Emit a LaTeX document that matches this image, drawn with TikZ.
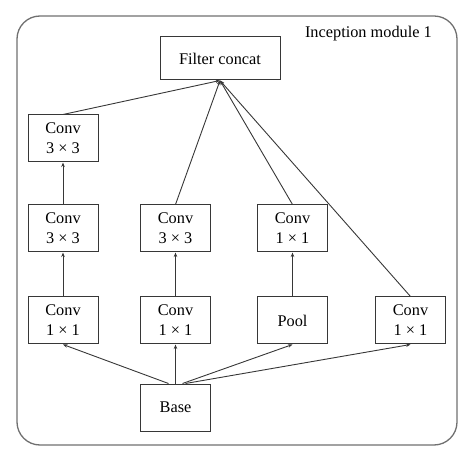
\documentclass[tikz,border=0pt]{standalone}
\usepackage{fontspec}
\setmainfont{Liberation Serif}
\usepackage{tikz}
\usetikzlibrary{arrows.meta,positioning,calc}
\definecolor{framegray}{RGB}{112,112,112}
\definecolor{boxgray}{RGB}{55,55,55}

\begin{document}
\begin{tikzpicture}[x=1pt,y=-1pt,font=\fontsize{16.3}{20}\selectfont, node distance=0pt]
  \tikzset{layer/.style={draw=boxgray,line width=1pt,minimum width=70pt,minimum height=47pt,inner sep=0pt,align=center},
           link/.style={-{Stealth[length=4.5pt,width=3.5pt]},line width=0.9pt,boxgray}}
  \useasboundingbox (0,0) rectangle (474,462);
  \draw[framegray,line width=1.3pt,rounded corners=23pt] (17,16) rectangle (457,445);
  \node[anchor=east,inner sep=0pt] (title) at (432,34) {Inception module 1};
  \node[layer,minimum width=120pt,minimum height=43pt] (fc) at (220,58.5) {Filter concat};
  % bottom row
  \node[layer] (c1a) at (63,320.5)  {Conv\\1 × 1};
  \node[layer] (c2a) at (175.5,320.5) {Conv\\1 × 1};
  \node[layer] (pool) at (292.5,320.5) {Pool};
  \node[layer] (c4a) at (410.5,320.5) {Conv\\1 × 1};
  % upper rows
  \node[layer, above=44pt of c1a] (c1b) {Conv\\3 × 3};
  \node[layer, above=42pt of c1b] (c1c) {Conv\\3 × 3};
  \node[layer, above=44pt of c2a] (c2b) {Conv\\3 × 3};
  \node[layer, above=44pt of pool] (c3b) {Conv\\1 × 1};
  \node[layer, below=39pt of c2a] (base) {Base};
  % connections
  \draw[link] ([xshift=-7pt]base.north) -- (c1a.south);
  \draw[link] (base.north) -- (c2a.south);
  \draw[link] ([xshift=7pt]base.north) -- (pool.south);
  \draw[link] ([xshift=10pt]base.north) -- (c4a.south);
  \draw[link] (c1a) -- (c1b); \draw[link] (c1b) -- (c1c);
  \draw[link] (c2a) -- (c2b); \draw[link] (pool) -- (c3b);
  \draw[link] (c1c.north) -- (fc.south); \draw[link] (c2b.north) -- (fc.south);
  \draw[link] (c3b.north) -- (fc.south); \draw[link] (c4a.north) -- (fc.south);
\end{tikzpicture}
\end{document}
